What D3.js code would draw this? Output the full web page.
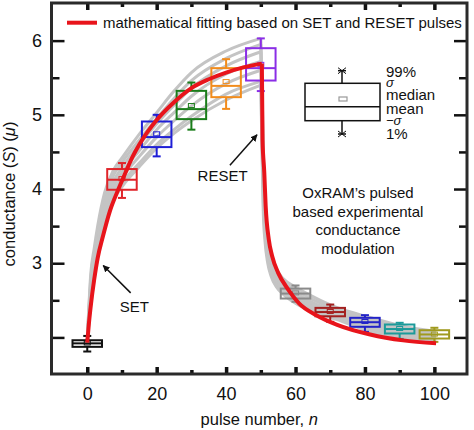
<!DOCTYPE html>
<html>
<head>
<meta charset="utf-8">
<script src="https://cdn.jsdelivr.net/npm/d3@7"></script>
<style>
  html, body { margin: 0; padding: 0; background: #fff; }
  svg { display: block; }
  text { font-family: 'Liberation Sans', Arial, Helvetica, sans-serif; fill: #111; }
</style>
</head>
<body>
<svg id="chart" width="474" height="430"></svg>
<script>
// ---------------- DATA ----------------
// Box statistics (pulse number n)
const boxN      = [0, 10, 20, 30, 40, 50, 60, 70, 80, 90, 100];
const boxColors = ["#111111", "#e0242a", "#1f1fd6", "#1a7d1a", "#f28c1c", "#8a2ee6",
                   "#8a8a8a", "#a3201f", "#2323c8", "#1c9a9a", "#a09a1e"];
const boxLow    = [1.81, 3.88, 4.44, 4.80, 5.08, 5.32, 2.48, 2.21, 2.075, 1.98, 1.94];
const boxQ1     = [1.873, 3.99, 4.565, 4.942, 5.238, 5.462, 2.524, 2.285, 2.143, 2.053, 1.985];
const boxMedian = [1.92, 4.125, 4.70, 5.077, 5.39, 5.629, 2.591, 2.342, 2.205, 2.113, 2.04];
const boxMean   = [1.925, 4.14, 4.744, 5.125, 5.448, 5.68, 2.60, 2.35, 2.215, 2.12, 2.045];
const boxQ3     = [1.962, 4.269, 4.910, 5.323, 5.629, 5.898, 2.658, 2.398, 2.264, 2.174, 2.097];
const boxHigh   = [2.02, 4.35, 5.00, 5.435, 5.75, 6.03, 2.70, 2.443, 2.30, 2.197, 2.13];

// Red mathematical fitting curve (SET then RESET)
const fitSetN = [0, 0.5, 1, 2, 3, 4.5, 6.5, 9, 11, 13, 15, 20, 25, 30, 35, 40, 45, 50.3];
const fitSetV = [1.93, 2.2, 2.42, 2.78, 3.07, 3.36, 3.7, 4.0, 4.22, 4.43, 4.6, 4.93, 5.17, 5.36, 5.48, 5.57, 5.64, 5.69];
const fitResetN = [50.3, 50.5, 51.0, 51.4, 52.3, 53.3, 55, 57.9, 61, 66, 72, 81.5, 91, 100.5];
const fitResetV = [5.69, 4.66, 4.22, 3.77, 3.32, 3.09, 2.87, 2.645, 2.46, 2.3, 2.17, 2.04, 1.96, 1.92];

// Grey experimental cycles
const cycSetN = [0, 1, 2, 3, 5, 7.5, 10, 15, 20, 25, 30, 40, 50];
const cycSet = [
  [1.95, 2.85, 3.20, 3.50, 3.95, 4.25, 4.42, 4.74, 5.03, 5.32, 5.57, 5.86, 6.03],
  [1.95, 2.78, 3.12, 3.42, 3.87, 4.18, 4.36, 4.66, 4.95, 5.22, 5.46, 5.76, 5.95],
  [1.95, 2.70, 3.05, 3.35, 3.80, 4.10, 4.29, 4.60, 4.88, 5.13, 5.36, 5.66, 5.85],
  [1.95, 2.62, 2.98, 3.28, 3.72, 4.03, 4.22, 4.52, 4.80, 5.03, 5.25, 5.55, 5.72],
  [1.95, 2.55, 2.90, 3.20, 3.63, 3.96, 4.15, 4.44, 4.70, 4.92, 5.12, 5.42, 5.60],
  [1.95, 2.48, 2.84, 3.13, 3.55, 3.90, 4.08, 4.35, 4.60, 4.80, 4.98, 5.28, 5.45],
  [1.95, 2.43, 2.79, 3.08, 3.50, 3.85, 4.03, 4.30, 4.55, 4.75, 4.92, 5.20, 5.40]
];
const cycResetN = [50, 50.3, 50.7, 51.2, 52, 53, 54.5, 56.5, 60, 65, 72, 81.5, 91, 100.5];
const cycReset = [
  [6.03, 5.50, 4.60, 3.90, 3.40, 3.12, 2.92, 2.79, 2.68, 2.55, 2.40, 2.27, 2.15, 2.08],
  [5.95, 5.35, 4.45, 3.80, 3.33, 3.06, 2.88, 2.75, 2.64, 2.51, 2.37, 2.24, 2.13, 2.06],
  [5.85, 5.20, 4.30, 3.70, 3.26, 3.00, 2.83, 2.71, 2.60, 2.47, 2.34, 2.21, 2.10, 2.04],
  [5.72, 5.05, 4.15, 3.60, 3.19, 2.95, 2.79, 2.67, 2.56, 2.44, 2.31, 2.18, 2.07, 2.01],
  [5.60, 4.90, 4.00, 3.50, 3.12, 2.90, 2.75, 2.64, 2.52, 2.41, 2.28, 2.14, 2.05, 1.99],
  [5.45, 4.75, 3.85, 3.40, 3.06, 2.86, 2.72, 2.61, 2.49, 2.38, 2.26, 2.11, 2.02, 1.96],
  [5.40, 4.60, 3.70, 3.30, 3.00, 2.82, 2.68, 2.58, 2.46, 2.35, 2.24, 2.08, 2.00, 1.94]
];

// Axis ticks
const xMajorTicks = [0, 20, 40, 60, 80, 100];
const xMinorTicks = [10, 30, 50, 70, 90];
const yMajorTicks = [2, 3, 4, 5, 6];
const yLabelled   = [3, 4, 5, 6];
const yMinorTicks = [2.5, 3.5, 4.5, 5.5];

// Statistics key labels
const keyLabels = ["99%", "σ", "median", "mean", "−σ", "1%"];
const noteLines = ["OxRAM’s pulsed", "based experimental", "conductance", "modulation"];

// ---------------- CHART ----------------
const svg = d3.select("#chart");
const L = 51.5, R = 467, T = 3, B = 374;
const x = d3.scaleLinear().domain([-10.3, 109.4]).range([L, R]);
const y = d3.scaleLinear().domain([1.507, 6.507]).range([B, T]);

const defs = svg.append("defs");
defs.append("marker").attr("id", "ah").attr("viewBox", "0 0 10 10")
  .attr("refX", 9).attr("refY", 5).attr("markerWidth", 7).attr("markerHeight", 7)
  .attr("markerUnits", "userSpaceOnUse").attr("orient", "auto")
  .append("path").attr("d", "M0,0 L10,5 L0,10 z").attr("fill", "#111");

// grey cycles
const line = d3.line().curve(d3.curveMonotoneX);
const gGrey = svg.append("g");
cycSet.forEach(c => {
  gGrey.append("path").attr("d", line(cycSetN.map((n, i) => [x(n), y(c[i])])))
    .attr("fill", "none").attr("stroke", "#c4c4c4").attr("stroke-width", 3);
});
cycReset.forEach(c => {
  gGrey.append("path").attr("d", line(cycResetN.map((n, i) => [x(n), y(c[i])])))
    .attr("fill", "none").attr("stroke", "#c4c4c4").attr("stroke-width", 3);
});

// boxes
const bw = x(4.25) - x(0);
const capW = 4;
const gBox = svg.append("g");
boxN.forEach((n, i) => {
  const cx = x(n), col = boxColors[i];
  const g = gBox.append("g").attr("stroke", col).attr("fill", "none").attr("stroke-width", 2);
  g.append("line").attr("x1", cx).attr("x2", cx).attr("y1", y(boxHigh[i])).attr("y2", y(boxQ3[i]));
  g.append("line").attr("x1", cx).attr("x2", cx).attr("y1", y(boxQ1[i])).attr("y2", y(boxLow[i]));
  g.append("line").attr("x1", cx - capW).attr("x2", cx + capW).attr("y1", y(boxHigh[i])).attr("y2", y(boxHigh[i]));
  g.append("line").attr("x1", cx - capW).attr("x2", cx + capW).attr("y1", y(boxLow[i])).attr("y2", y(boxLow[i]));
  g.append("rect").attr("x", cx - bw).attr("width", 2 * bw)
    .attr("y", y(boxQ3[i])).attr("height", y(boxQ1[i]) - y(boxQ3[i]));
  g.append("line").attr("x1", cx - bw).attr("x2", cx + bw).attr("y1", y(boxMedian[i])).attr("y2", y(boxMedian[i]));
  g.append("rect").attr("x", cx - 3).attr("y", y(boxMean[i]) - 2).attr("width", 6).attr("height", 4)
    .attr("stroke-width", 1);
});

// red fit
const fitLine = d3.line().curve(d3.curveMonotoneX);
svg.append("path").attr("d", fitLine(fitSetN.map((n, i) => [x(n), y(fitSetV[i])])))
  .attr("fill", "none").attr("stroke", "#e8141b").attr("stroke-width", 4);
svg.append("path").attr("d", fitLine(fitResetN.map((n, i) => [x(n), y(fitResetV[i])])))
  .attr("fill", "none").attr("stroke", "#e8141b").attr("stroke-width", 4);

// annotations (SET / RESET arrows)
svg.append("line").attr("x1", x(12.5)).attr("y1", y(2.6)).attr("x2", x(4.6)).attr("y2", y(2.97))
  .attr("stroke", "#111").attr("stroke-width", 1.5).attr("marker-end", "url(#ah)");
svg.append("text").attr("x", x(13.6)).attr("y", y(2.343)).attr("text-anchor", "middle")
  .attr("font-size", 15).text("SET");
svg.append("line").attr("x1", x(41.1)).attr("y1", y(4.32)).attr("x2", x(48.9)).attr("y2", y(4.73))
  .attr("stroke", "#111").attr("stroke-width", 1.5).attr("marker-end", "url(#ah)");
svg.append("text").attr("x", x(39)).attr("y", y(4.108)).attr("text-anchor", "middle")
  .attr("font-size", 15).text("RESET");

// note text
const note = svg.append("text").attr("text-anchor", "middle").attr("font-size", 15);
noteLines.forEach((t, i) => {
  note.append("tspan").attr("x", 358).attr("y", 198 + i * 18.7).text(t);
});

// legend (red line)
svg.append("line").attr("x1", 67).attr("x2", 97).attr("y1", 22.7).attr("y2", 22.7)
  .attr("stroke", "#e8141b").attr("stroke-width", 4);
svg.append("text").attr("x", 103).attr("y", 27.5).attr("font-size", 15)
  .text("mathematical fitting based on SET and RESET pulses");

// statistics key
const key = svg.append("g").attr("stroke", "#111").attr("fill", "none").attr("stroke-width", 1.5);
key.append("rect").attr("x", 305).attr("y", 83.3).attr("width", 75).attr("height", 37.4);
key.append("line").attr("x1", 305).attr("x2", 380).attr("y1", 106.7).attr("y2", 106.7);
key.append("line").attr("x1", 342).attr("x2", 342).attr("y1", 70.7).attr("y2", 83.3);
key.append("line").attr("x1", 342).attr("x2", 342).attr("y1", 120.7).attr("y2", 134);
[70.7, 134].forEach(yy => {
  key.append("line").attr("x1", 338).attr("x2", 346).attr("y1", yy).attr("y2", yy);
  key.append("path").attr("d", `M338,${yy - 3}L346,${yy + 3}M338,${yy + 3}L346,${yy - 3}`).attr("stroke-width", 1);
});
key.append("rect").attr("x", 339).attr("y", 97).attr("width", 8).attr("height", 4)
  .attr("stroke", "#999").attr("stroke-width", 1.2);
const keyY = [77, 87, 100, 114, 125, 139];
keyLabels.forEach((t, i) => {
  const tx = svg.append("text").attr("x", 386).attr("y", keyY[i]).attr("font-size", 15).text(t);
  if (t.includes("σ")) tx.attr("font-style", "italic").attr("font-size", 13);
});

// axes
const axB = svg.append("g").attr("transform", `translate(0,${B})`)
  .call(d3.axisBottom(x).tickValues(xMajorTicks).tickSizeInner(-7).tickSizeOuter(0).tickPadding(13));
axB.selectAll("text").attr("font-size", 18).style("font-family", "'Liberation Sans', Arial, sans-serif");
const axBm = svg.append("g").attr("transform", `translate(0,${B})`)
  .call(d3.axisBottom(x).tickValues(xMinorTicks).tickSizeInner(-4).tickSizeOuter(0).tickFormat(""));
const axT = svg.append("g").attr("transform", `translate(0,${T})`)
  .call(d3.axisTop(x).tickValues(xMajorTicks).tickSizeInner(-7).tickSizeOuter(0).tickFormat(""));
const axTm = svg.append("g").attr("transform", `translate(0,${T})`)
  .call(d3.axisTop(x).tickValues(xMinorTicks).tickSizeInner(-4).tickSizeOuter(0).tickFormat(""));
const axL = svg.append("g").attr("transform", `translate(${L},0)`)
  .call(d3.axisLeft(y).tickValues(yMajorTicks).tickSizeInner(-13).tickSizeOuter(0).tickPadding(9.5)
    .tickFormat(d => yLabelled.includes(d) ? d3.format("d")(d) : ""));
axL.selectAll("text").attr("font-size", 18).style("font-family", "'Liberation Sans', Arial, sans-serif");
const axLm = svg.append("g").attr("transform", `translate(${L},0)`)
  .call(d3.axisLeft(y).tickValues(yMinorTicks).tickSizeInner(-8).tickSizeOuter(0).tickFormat(""));
const axR = svg.append("g").attr("transform", `translate(${R},0)`)
  .call(d3.axisRight(y).tickValues(yMajorTicks).tickSizeInner(-13).tickSizeOuter(0).tickFormat(""));
const axRm = svg.append("g").attr("transform", `translate(${R},0)`)
  .call(d3.axisRight(y).tickValues(yMinorTicks).tickSizeInner(-8).tickSizeOuter(0).tickFormat(""));
[axB, axBm, axT, axTm].forEach(a => { a.select(".domain").remove(); a.selectAll("line").attr("stroke", "#111").attr("stroke-width", 3.5); });
[axL, axLm, axR, axRm].forEach(a => { a.select(".domain").remove(); a.selectAll("line").attr("stroke", "#111").attr("stroke-width", 2.5); });
svg.selectAll(".tick text").attr("fill", "#111");

// frame
svg.append("rect").attr("x", L).attr("y", T).attr("width", R - L).attr("height", B - T)
  .attr("fill", "none").attr("stroke", "#2a2a2a").attr("stroke-width", 3);

// axis titles
const xt = svg.append("text").attr("x", (L + R) / 2).attr("y", 425).attr("text-anchor", "middle").attr("font-size", 16.5);
xt.append("tspan").text("pulse number, ");
xt.append("tspan").attr("font-style", "italic").text("n");
const yt = svg.append("text").attr("transform", "translate(15,194) rotate(-90)").attr("text-anchor", "middle").attr("font-size", 16.5);
yt.append("tspan").text("conductance (");
yt.append("tspan").attr("font-style", "italic").text("S");
yt.append("tspan").text(") (");
yt.append("tspan").attr("font-style", "italic").text("μ");
yt.append("tspan").text(")");
</script>
</body>
</html>
